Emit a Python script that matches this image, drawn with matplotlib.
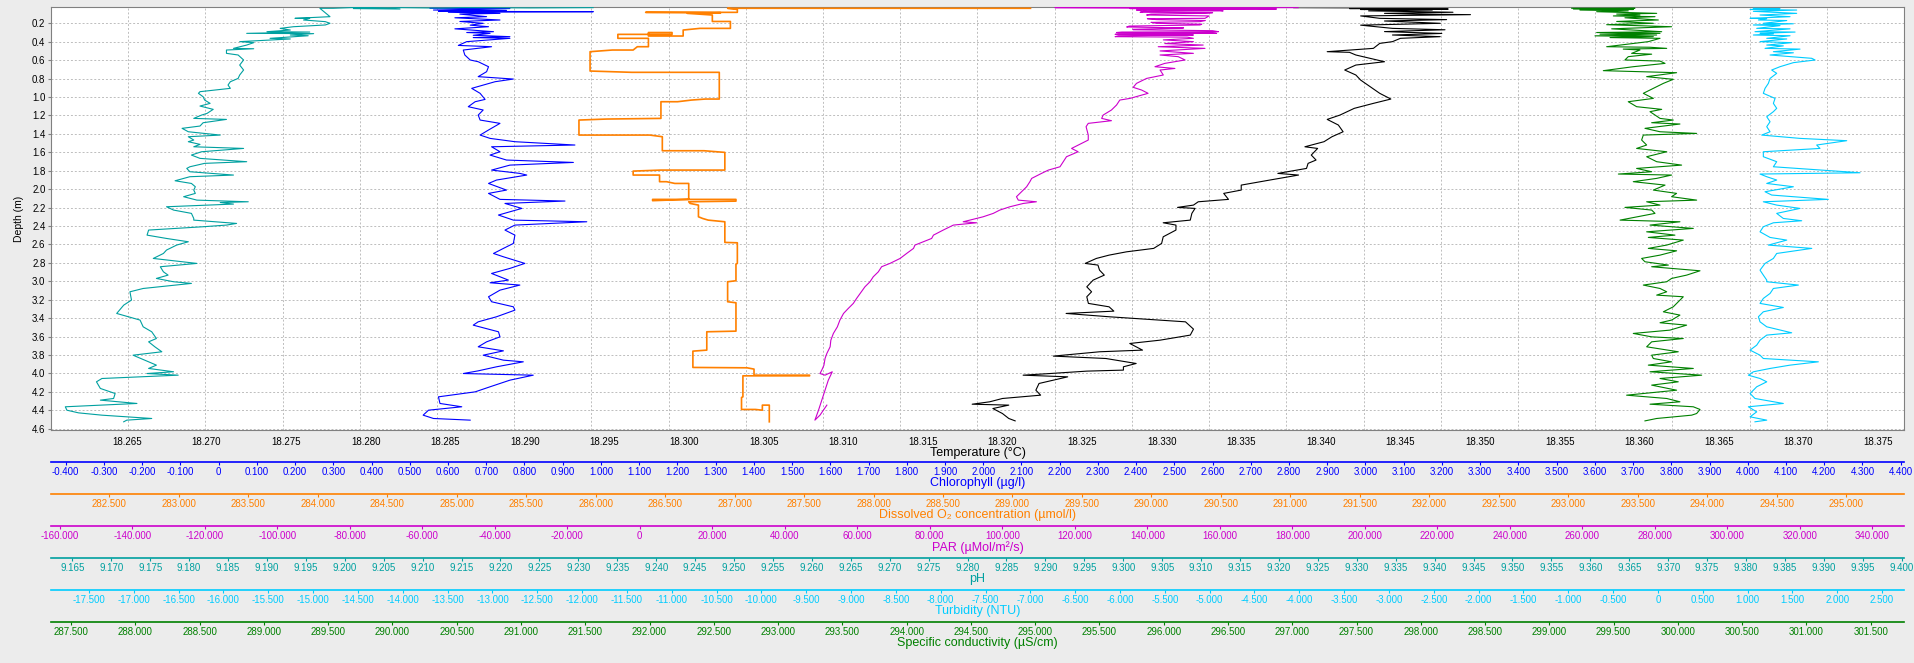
import numpy as np
import matplotlib.pyplot as plt
from matplotlib.ticker import MultipleLocator, FuncFormatter

plt.rcParams['font.family'] = ['Liberation Sans', 'DejaVu Sans']

# Temperature (black)
temp_depth = [0.030, 0.035, 0.040, 0.045, 0.050, 0.056, 0.065, 0.080, 0.092, 0.100, 0.106, 0.120, 0.146, 0.160,
              0.175, 0.200, 0.220, 0.255, 0.270, 0.290, 0.310, 0.327, 0.345, 0.363, 0.399, 0.418, 0.472, 0.508,
              0.515, 0.544, 0.617, 0.653, 0.707, 0.761, 0.816, 0.888, 0.960, 1.022, 1.069, 1.123, 1.196, 1.243,
              1.304, 1.377, 1.431, 1.485, 1.540, 1.558, 1.630, 1.684, 1.720, 1.775, 1.829, 1.847, 1.901, 1.956,
              2.010, 2.046, 2.111, 2.137, 2.173, 2.198, 2.209, 2.263, 2.336, 2.365, 2.390, 2.444, 2.517, 2.589,
              2.643, 2.680, 2.716, 2.752, 2.806, 2.824, 2.879, 2.933, 2.987, 3.060, 3.114, 3.168, 3.240, 3.277,
              3.324, 3.349, 3.385, 3.440, 3.519, 3.584, 3.639, 3.675, 3.747, 3.765, 3.812, 3.838, 3.892, 3.928,
              3.964, 3.975, 4.001, 4.019, 4.037, 4.109, 4.182, 4.236, 4.272, 4.308, 4.334, 4.344, 4.381, 4.435,
              4.489, 4.515]
temp_val = [18.3383, 18.3466, 18.3418, 18.3480, 18.3425, 18.3470, 18.3430, 18.3483, 18.3440, 18.3460, 18.3494,
            18.3425, 18.3437, 18.3479, 18.3440, 18.3475, 18.3425, 18.3445, 18.3478, 18.3440, 18.3476, 18.3445,
            18.3475, 18.3450, 18.3445, 18.3437, 18.3433, 18.3404, 18.3418, 18.3422, 18.3440, 18.3422, 18.3415,
            18.3422, 18.3425, 18.3431, 18.3437, 18.3444, 18.3433, 18.3421, 18.3412, 18.3404, 18.3411, 18.3414,
            18.3407, 18.3402, 18.3390, 18.3398, 18.3394, 18.3397, 18.3392, 18.3391, 18.3373, 18.3386, 18.3368,
            18.3350, 18.3350, 18.3339, 18.3342, 18.3323, 18.3320, 18.3310, 18.3321, 18.3319, 18.3318, 18.3301,
            18.3309, 18.3309, 18.3301, 18.3300, 18.3295, 18.3278, 18.3267, 18.3259, 18.3252, 18.3260, 18.3261,
            18.3264, 18.3257, 18.3253, 18.3256, 18.3253, 18.3254, 18.3267, 18.3270, 18.3240, 18.3267, 18.3315,
            18.3320, 18.3318, 18.3299, 18.3280, 18.3288, 18.3261, 18.3232, 18.3265, 18.3284, 18.3276, 18.3276,
            18.3253, 18.3230, 18.3213, 18.3241, 18.3223, 18.3221, 18.3224, 18.3200, 18.3192, 18.3181, 18.3204,
            18.3194, 18.3200, 18.3204, 18.3208]

# Chlorophyll (blue)
chl_depth = [0.037, 0.040, 0.056, 0.060, 0.070, 0.074, 0.080, 0.092, 0.100, 0.128, 0.140, 0.164, 0.180, 0.200,
             0.220, 0.237, 0.260, 0.291, 0.300, 0.309, 0.330, 0.345, 0.355, 0.363, 0.399, 0.440, 0.454, 0.490,
             0.544, 0.598, 0.617, 0.671, 0.725, 0.779, 0.805, 0.834, 0.906, 0.960, 1.026, 1.051, 1.105, 1.141,
             1.196, 1.250, 1.286, 1.358, 1.413, 1.449, 1.485, 1.521, 1.540, 1.594, 1.630, 1.684, 1.710, 1.739,
             1.793, 1.829, 1.847, 1.901, 1.938, 2.010, 2.046, 2.111, 2.129, 2.155, 2.209, 2.281, 2.336, 2.354,
             2.390, 2.444, 2.499, 2.589, 2.643, 2.698, 2.734, 2.806, 2.860, 2.915, 2.987, 3.016, 3.041, 3.096,
             3.168, 3.222, 3.277, 3.313, 3.385, 3.440, 3.476, 3.548, 3.603, 3.657, 3.711, 3.755, 3.802, 3.856,
             3.874, 3.928, 3.972, 4.001, 4.019, 4.073, 4.145, 4.200, 4.254, 4.326, 4.362, 4.399, 4.453, 4.489,
             4.507]
chl_val = [0.553, 0.762, 0.562, 0.753, 0.575, 0.980, 0.601, 0.736, 0.631, 0.701, 0.618, 0.736, 0.631, 0.692,
           0.658, 0.706, 0.618, 0.719, 0.649, 0.710, 0.666, 0.762, 0.666, 0.762, 0.649, 0.627, 0.714, 0.640,
           0.644, 0.658, 0.679, 0.706, 0.701, 0.679, 0.771, 0.723, 0.662, 0.684, 0.697, 0.671, 0.653, 0.692,
           0.679, 0.684, 0.736, 0.706, 0.684, 0.710, 0.775, 0.932, 0.714, 0.736, 0.710, 0.753, 0.928, 0.762,
           0.714, 0.788, 0.806, 0.727, 0.706, 0.753, 0.706, 0.736, 0.906, 0.749, 0.793, 0.732, 0.771, 0.963,
           0.775, 0.749, 0.775, 0.771, 0.745, 0.719, 0.745, 0.801, 0.762, 0.714, 0.758, 0.710, 0.788, 0.736,
           0.706, 0.714, 0.771, 0.775, 0.727, 0.679, 0.666, 0.732, 0.736, 0.701, 0.679, 0.745, 0.692, 0.745,
           0.797, 0.727, 0.679, 0.640, 0.823, 0.762, 0.710, 0.671, 0.575, 0.579, 0.636, 0.549, 0.535, 0.562,
           0.658]

# Dissolved O2 (orange)
o2_depth = [0.037, 0.037, 0.050, 0.081, 0.081, 0.085, 0.092, 0.110, 0.180, 0.180, 0.255, 0.255, 0.273, 0.338,
            0.338, 0.300, 0.300, 0.320, 0.320, 0.363, 0.363, 0.454, 0.454, 0.490, 0.490, 0.508, 0.718, 0.732,
            0.732, 0.870, 1.022, 1.022, 1.033, 1.051, 1.051, 1.232, 1.239, 1.250, 1.413, 1.413, 1.431, 1.583,
            1.583, 1.601, 1.793, 1.793, 1.804, 1.847, 1.847, 1.919, 1.919, 1.938, 1.938, 2.111, 2.111, 2.125,
            2.111, 2.111, 2.130, 2.137, 2.155, 2.173, 2.300, 2.318, 2.336, 2.354, 2.578, 2.582, 2.806, 2.813,
            2.994, 3.005, 3.222, 3.233, 3.541, 3.548, 3.747, 3.758, 3.935, 3.939, 3.953, 4.019, 4.019, 4.026,
            4.026, 4.254, 4.261, 4.391, 4.391, 4.399, 4.344, 4.344, 4.525]
o2_val = [289.13, 286.95, 287.02, 287.02, 286.36, 286.90, 286.66, 286.84, 286.84, 286.97, 286.97, 286.75, 286.63,
          286.63, 286.38, 286.38, 286.55, 286.55, 286.16, 286.16, 286.38, 286.38, 286.30, 286.27, 286.12, 285.96,
          285.96, 286.26, 286.89, 286.89, 286.89, 286.79, 286.69, 286.59, 286.47, 286.47, 286.08, 285.88, 285.88,
          286.39, 286.48, 286.48, 286.78, 286.93, 286.93, 286.47, 286.27, 286.27, 286.46, 286.46, 286.51, 286.57,
          286.67, 286.67, 286.41, 286.41, 286.67, 287.01, 287.01, 286.67, 286.68, 286.74, 286.74, 286.77, 286.81,
          286.93, 286.93, 287.02, 287.02, 287.01, 287.01, 286.95, 286.95, 287.01, 287.01, 286.80, 286.80, 286.70,
          286.70, 287.09, 287.14, 287.14, 287.54, 287.54, 287.06, 287.06, 287.05, 287.05, 287.15, 287.20, 287.20,
          287.25, 287.25]

# PAR (magenta)
par_depth = [0.030, 0.030, 0.035, 0.040, 0.042, 0.045, 0.050, 0.056, 0.060, 0.065, 0.070, 0.080, 0.085, 0.092,
             0.100, 0.110, 0.120, 0.146, 0.150, 0.160, 0.170, 0.182, 0.190, 0.200, 0.210, 0.218, 0.230, 0.240,
             0.250, 0.255, 0.265, 0.270, 0.280, 0.291, 0.295, 0.300, 0.305, 0.309, 0.315, 0.320, 0.325, 0.327,
             0.335, 0.345, 0.350, 0.363, 0.380, 0.399, 0.420, 0.436, 0.454, 0.472, 0.500, 0.526, 0.544, 0.562,
             0.598, 0.635, 0.671, 0.690, 0.707, 0.761, 0.798, 0.852, 0.895, 0.924, 0.960, 1.015, 1.033, 1.087,
             1.141, 1.196, 1.232, 1.257, 1.286, 1.322, 1.413, 1.467, 1.503, 1.558, 1.594, 1.648, 1.702, 1.757,
             1.793, 1.829, 1.883, 1.919, 1.974, 2.028, 2.082, 2.119, 2.137, 2.155, 2.191, 2.227, 2.263, 2.300,
             2.354, 2.365, 2.390, 2.444, 2.499, 2.535, 2.607, 2.643, 2.698, 2.752, 2.806, 2.842, 2.897, 2.951,
             3.005, 3.060, 3.132, 3.186, 3.240, 3.295, 3.349, 3.421, 3.494, 3.566, 3.639, 3.711, 3.783, 3.838,
             3.910, 3.964, 4.001, 4.019, 3.982, 4.073, 4.182, 4.290, 4.399, 4.507, 4.453, 4.344]
par_val = [181.6, 114.5, 150.0, 135.2, 170.0, 175.6, 140.0, 137.0, 160.0, 160.9, 139.0, 138.0, 158.0, 155.4,
           141.0, 139.8, 157.0, 155.9, 140.0, 142.5, 156.0, 154.5, 141.0, 142.5, 155.0, 154.5, 135.0, 134.3,
           150.0, 147.1, 136.0, 136.1, 158.0, 159.6, 133.0, 131.5, 158.0, 159.1, 132.0, 131.1, 152.0, 152.7,
           132.0, 131.1, 151.0, 152.7, 144.4, 152.7, 144.8, 155.4, 143.0, 155.9, 143.5, 152.7, 143.5, 148.5,
           150.4, 144.8, 142.1, 147.6, 143.5, 144.4, 139.8, 137.0, 136.1, 138.4, 140.2, 135.2, 132.4, 131.5,
           130.1, 127.8, 127.4, 130.1, 123.7, 123.1, 123.7, 123.7, 121.9, 119.1, 120.9, 117.7, 116.8, 115.9,
           112.7, 110.8, 108.1, 107.6, 106.7, 105.3, 103.9, 104.4, 109.4, 105.8, 102.1, 99.3, 97.5, 94.7,
           89.2, 92.9, 86.5, 83.7, 81.0, 80.5, 75.9, 75.5, 73.6, 71.8, 69.0, 66.7, 65.8, 64.4,
           63.5, 62.1, 60.8, 59.8, 58.9, 57.5, 56.2, 55.2, 54.5, 53.4, 52.7, 52.5, 51.6, 51.1,
           50.8, 50.2, 49.7, 51.1, 53.1, 52.0, 51.1, 50.2, 49.3, 48.3, 49.7, 51.6]

# pH (teal)
ph_depth = [0.030, 0.033, 0.030, 0.035, 0.030, 0.040, 0.045, 0.027, 0.037, 0.037, 0.128, 0.146, 0.146, 0.164,
            0.182, 0.200, 0.218, 0.237, 0.255, 0.273, 0.291, 0.295, 0.309, 0.312, 0.327, 0.335, 0.363, 0.370,
            0.399, 0.410, 0.436, 0.472, 0.476, 0.490, 0.526, 0.544, 0.598, 0.653, 0.707, 0.761, 0.798, 0.834,
            0.870, 0.906, 0.942, 0.960, 0.997, 1.033, 1.069, 1.098, 1.134, 1.178, 1.196, 1.232, 1.243, 1.279,
            1.315, 1.340, 1.377, 1.413, 1.431, 1.467, 1.485, 1.514, 1.540, 1.558, 1.594, 1.630, 1.666, 1.702,
            1.720, 1.757, 1.775, 1.811, 1.847, 1.865, 1.909, 1.938, 1.974, 2.010, 2.046, 2.082, 2.119, 2.137,
            2.145, 2.162, 2.191, 2.227, 2.263, 2.318, 2.336, 2.372, 2.390, 2.408, 2.444, 2.499, 2.535, 2.571,
            2.607, 2.661, 2.698, 2.752, 2.806, 2.842, 2.897, 2.933, 2.969, 3.005, 3.023, 3.078, 3.114, 3.204,
            3.259, 3.349, 3.385, 3.421, 3.494, 3.548, 3.621, 3.657, 3.711, 3.765, 3.802, 3.856, 3.910, 3.946,
            3.982, 4.001, 4.019, 4.055, 4.091, 4.163, 4.218, 4.272, 4.290, 4.326, 4.362, 4.399, 4.428, 4.453,
            4.489, 4.507, 4.525]
ph_val = [9.2319, 9.2238, 9.2150, 9.2125, 9.2071, 9.2011, 9.2071, 9.2017, 9.1985, 9.1968, 9.1981, 9.1936, 9.1955,
          9.1947, 9.1975, 9.1981, 9.1975, 9.1934, 9.1917, 9.1930, 9.1900, 9.1955, 9.1874, 9.1960, 9.1930, 9.1953,
          9.1904, 9.1930, 9.1865, 9.1883, 9.1874, 9.1857, 9.1883, 9.1848, 9.1848, 9.1863, 9.1870, 9.1865, 9.1870,
          9.1865, 9.1863, 9.1853, 9.1850, 9.1853, 9.1814, 9.1812, 9.1818, 9.1820, 9.1827, 9.1814, 9.1831, 9.1823,
          9.1816, 9.1806, 9.1848, 9.1818, 9.1814, 9.1791, 9.1799, 9.1840, 9.1799, 9.1806, 9.1799, 9.1814, 9.1806,
          9.1870, 9.1816, 9.1803, 9.1814, 9.1874, 9.1820, 9.1801, 9.1797, 9.1801, 9.1857, 9.1801, 9.1782, 9.1803,
          9.1808, 9.1806, 9.1808, 9.1793, 9.1810, 9.1876, 9.1840, 9.1857, 9.1771, 9.1780, 9.1803, 9.1806, 9.1806,
          9.1861, 9.1848, 9.1818, 9.1748, 9.1746, 9.1771, 9.1799, 9.1784, 9.1771, 9.1767, 9.1754, 9.1810, 9.1763,
          9.1767, 9.1773, 9.1758, 9.1780, 9.1803, 9.1741, 9.1724, 9.1726, 9.1716, 9.1707, 9.1722, 9.1737, 9.1741,
          9.1752, 9.1758, 9.1748, 9.1756, 9.1765, 9.1728, 9.1743, 9.1758, 9.1748, 9.1780, 9.1746, 9.1786, 9.1688,
          9.1681, 9.1686, 9.1705, 9.1703, 9.1686, 9.1733, 9.1641, 9.1643, 9.1658, 9.1688, 9.1752, 9.1720, 9.1716]

# Turbidity (cyan)
turb_depth = [0.037, 0.040, 0.050, 0.056, 0.070, 0.092, 0.110, 0.128, 0.146, 0.150, 0.164, 0.170, 0.200, 0.205,
              0.218, 0.225, 0.255, 0.260, 0.291, 0.295, 0.309, 0.315, 0.327, 0.335, 0.363, 0.370, 0.399, 0.410,
              0.436, 0.445, 0.472, 0.480, 0.508, 0.520, 0.544, 0.580, 0.598, 0.627, 0.671, 0.707, 0.743, 0.798,
              0.852, 0.906, 0.960, 1.015, 1.069, 1.123, 1.159, 1.214, 1.268, 1.322, 1.377, 1.413, 1.449, 1.474,
              1.521, 1.558, 1.594, 1.648, 1.702, 1.757, 1.822, 1.836, 1.865, 1.901, 1.938, 1.974, 2.028, 2.064,
              2.111, 2.137, 2.173, 2.209, 2.263, 2.318, 2.343, 2.365, 2.408, 2.463, 2.524, 2.553, 2.607, 2.643,
              2.698, 2.752, 2.806, 2.879, 2.933, 2.987, 3.005, 3.041, 3.078, 3.132, 3.186, 3.240, 3.284, 3.331,
              3.385, 3.440, 3.494, 3.559, 3.584, 3.639, 3.693, 3.747, 3.802, 3.838, 3.874, 3.910, 3.946, 3.982,
              4.019, 4.055, 4.091, 4.145, 4.218, 4.272, 4.326, 4.362, 4.417, 4.471, 4.507, 4.525]
turb_val = [1.065, 1.362, 1.028, 1.548, 1.065, 1.548, 1.139, 1.474, 1.028, 1.214, 1.121, 1.437, 1.176, 1.511,
            1.065, 1.362, 1.102, 1.474, 1.083, 1.530, 1.139, 1.288, 1.065, 1.474, 1.214, 1.437, 1.139, 1.492,
            1.214, 1.399, 1.195, 1.585, 1.288, 1.511, 1.251, 1.716, 1.753, 1.511, 1.362, 1.269, 1.325, 1.251,
            1.232, 1.195, 1.176, 1.307, 1.288, 1.325, 1.288, 1.214, 1.251, 1.214, 1.251, 1.158, 1.585, 2.106,
            1.771, 1.808, 1.176, 1.176, 1.325, 1.288, 2.255, 1.139, 1.214, 1.325, 1.214, 1.511, 1.195, 1.269,
            1.901, 1.176, 1.325, 1.585, 1.325, 1.399, 1.604, 1.288, 1.176, 1.139, 1.251, 1.437, 1.232, 1.716,
            1.325, 1.288, 1.195, 1.139, 1.176, 1.214, 1.214, 1.567, 1.288, 1.251, 1.176, 1.139, 1.399, 1.176,
            1.121, 1.139, 1.214, 1.492, 1.214, 1.139, 1.102, 1.028, 1.139, 1.176, 1.790, 1.474, 1.251, 1.065,
            1.009, 1.139, 1.214, 1.102, 1.028, 1.083, 1.399, 1.009, 1.102, 1.028, 1.214, 1.083]

# Specific conductivity (green)
cond_depth = [0.037, 0.037, 0.045, 0.050, 0.056, 0.065, 0.074, 0.092, 0.100, 0.110, 0.120, 0.128, 0.140, 0.164,
              0.180, 0.200, 0.215, 0.237, 0.260, 0.291, 0.300, 0.309, 0.318, 0.327, 0.336, 0.345, 0.355, 0.363,
              0.399, 0.454, 0.460, 0.472, 0.480, 0.490, 0.526, 0.535, 0.562, 0.598, 0.610, 0.635, 0.671, 0.714,
              0.736, 0.779, 0.808, 0.852, 0.906, 0.960, 1.015, 1.051, 1.105, 1.134, 1.159, 1.232, 1.250, 1.279,
              1.293, 1.340, 1.377, 1.395, 1.413, 1.467, 1.521, 1.558, 1.594, 1.648, 1.702, 1.739, 1.775, 1.811,
              1.836, 1.847, 1.883, 1.919, 1.956, 2.010, 2.046, 2.082, 2.119, 2.137, 2.173, 2.198, 2.227, 2.263,
              2.336, 2.354, 2.390, 2.426, 2.463, 2.499, 2.524, 2.553, 2.607, 2.643, 2.669, 2.716, 2.752, 2.788,
              2.824, 2.842, 2.886, 2.933, 2.969, 3.005, 3.041, 3.078, 3.114, 3.150, 3.168, 3.222, 3.277, 3.331,
              3.367, 3.421, 3.450, 3.476, 3.530, 3.566, 3.603, 3.621, 3.657, 3.711, 3.765, 3.802, 3.838, 3.874,
              3.910, 3.946, 3.982, 4.019, 4.055, 4.091, 4.127, 4.182, 4.236, 4.272, 4.308, 4.334, 4.362, 4.391,
              4.435, 4.453, 4.489, 4.515]
cond_val = [299.174, 299.666, 299.187, 299.653, 299.238, 299.614, 299.368, 299.835, 299.524, 299.705, 299.498,
            299.822, 299.588, 299.848, 299.524, 299.809, 299.446, 299.951, 299.485, 299.874, 299.368, 299.861,
            299.394, 299.835, 299.355, 299.809, 299.472, 299.861, 299.770, 299.446, 299.783, 299.913, 299.575,
            299.705, 299.640, 299.796, 299.614, 299.588, 299.861, 299.900, 299.653, 299.420, 299.990, 299.757,
            299.964, 299.887, 299.809, 299.731, 299.809, 299.614, 299.679, 299.874, 299.783, 299.861, 299.964,
            299.796, 300.016, 299.744, 299.861, 300.146, 299.731, 299.718, 299.757, 299.679, 299.913, 299.757,
            299.835, 300.029, 299.679, 299.796, 299.537, 299.951, 299.835, 299.653, 299.900, 299.809, 299.990,
            299.951, 300.146, 299.757, 299.861, 299.588, 299.796, 299.822, 299.550, 300.016, 299.783, 300.120,
            299.757, 299.977, 299.770, 300.042, 299.913, 299.770, 299.990, 299.861, 299.718, 299.744, 299.926,
            299.796, 300.172, 300.068, 299.951, 299.913, 299.731, 299.861, 299.913, 299.835, 300.042, 300.003,
            299.964, 299.887, 300.016, 299.951, 299.861, 300.068, 299.938, 299.653, 299.796, 300.042, 299.796,
            299.757, 300.003, 299.796, 299.809, 299.951, 299.770, 300.120, 299.783, 300.185, 299.861, 300.003,
            299.796, 299.990, 299.601, 299.913, 300.016, 299.783, 300.120, 300.172, 300.146, 300.107, 299.835,
            299.744]


def fmt3(v, pos):
    if abs(v) < 1e-9:
        return '0'
    return f'{v:.3f}'


W, H = 1914, 663
fig = plt.figure(figsize=(W / 100, H / 100), dpi=100, facecolor='#ececec')
ax = fig.add_axes([51 / W, 1 - 430 / H, (1904 - 51) / W, (430 - 7) / H])
ax.set_facecolor('white')

# background grid: horizontal at depth ticks, vertical in 24 equal columns
ax.yaxis.set_major_locator(MultipleLocator(0.2))
ax.yaxis.grid(True, color='#bdbdbd', linestyle=(0, (2, 2)), linewidth=0.7)
ax.vlines(np.arange(1, 24) / 24, 0, 1, transform=ax.transAxes, colors='#bdbdbd',
          linestyles=(0, (2, 2)), linewidth=0.7, zorder=0.5)
ax.set_axisbelow(True)

ax.plot(temp_val, temp_depth, color='black', lw=0.8)
ax.set_xlim(18.26024, 18.37663)
ax.set_ylim(4.614, 0.023)
ax.xaxis.set_major_locator(MultipleLocator(0.005))
ax.xaxis.set_major_formatter(FuncFormatter(lambda v, p: f'{v:.3f}'))
ax.yaxis.set_major_formatter(FuncFormatter(lambda v, p: f'{v:.1f}'))
ax.tick_params(axis='x', length=0, pad=5, labelsize=7)
ax.tick_params(axis='y', length=2, pad=2, labelsize=7, color='#808080')
ax.set_xlabel('Temperature (°C)', fontsize=9, labelpad=0)
ax.set_ylabel('Depth (m)', fontsize=7.5, labelpad=6)
for s in ax.spines.values():
    s.set_color('#808080')

extra = [
    ('Chlorophyll (µg/l)', chl_depth, chl_val, '#0000ff', (-0.4385, 4.4087), 0.1),
    ('Dissolved O₂ concentration (µmol/l)', o2_depth, o2_val, '#ff8000', (282.08, 295.417), 0.5),
    ('PAR (µMol/m²/s)', par_depth, par_val, '#cc00cc', (-162.4, 348.7), 20),
    ('pH', ph_depth, ph_val, '#00a0a0', (9.16226, 9.4003), 0.005),
    ('Turbidity (NTU)', turb_depth, turb_val, '#00ccff', (-17.924, 2.745), 0.5),
    ('Specific conductivity (µS/cm)', cond_depth, cond_val, '#008000', (287.344, 301.759), 0.5),
]

for i, (label, dep, val, col, lim, step) in enumerate(extra):
    axt = ax.twiny()
    lw = 1.2 if col == '#ff8000' else 0.8
    axt.plot(val, dep, color=col, lw=lw)
    axt.set_xlim(*lim)
    axt.xaxis.set_ticks_position('bottom')
    axt.xaxis.set_label_position('bottom')
    for s in ['top', 'left', 'right']:
        axt.spines[s].set_visible(False)
    axt.spines['bottom'].set_position(('outward', (32.2 + 32 * i) * 0.72))
    axt.spines['bottom'].set_color(col)
    axt.spines['bottom'].set_linewidth(1.2)
    axt.xaxis.set_major_locator(MultipleLocator(step))
    axt.xaxis.set_major_formatter(FuncFormatter(fmt3))
    axt.tick_params(axis='x', colors=col, length=2, pad=1.5, labelsize=7)
    axt.set_xlabel(label, color=col, fontsize=9, labelpad=0)

fig.savefig('out.png', dpi=100, facecolor=fig.get_facecolor())
